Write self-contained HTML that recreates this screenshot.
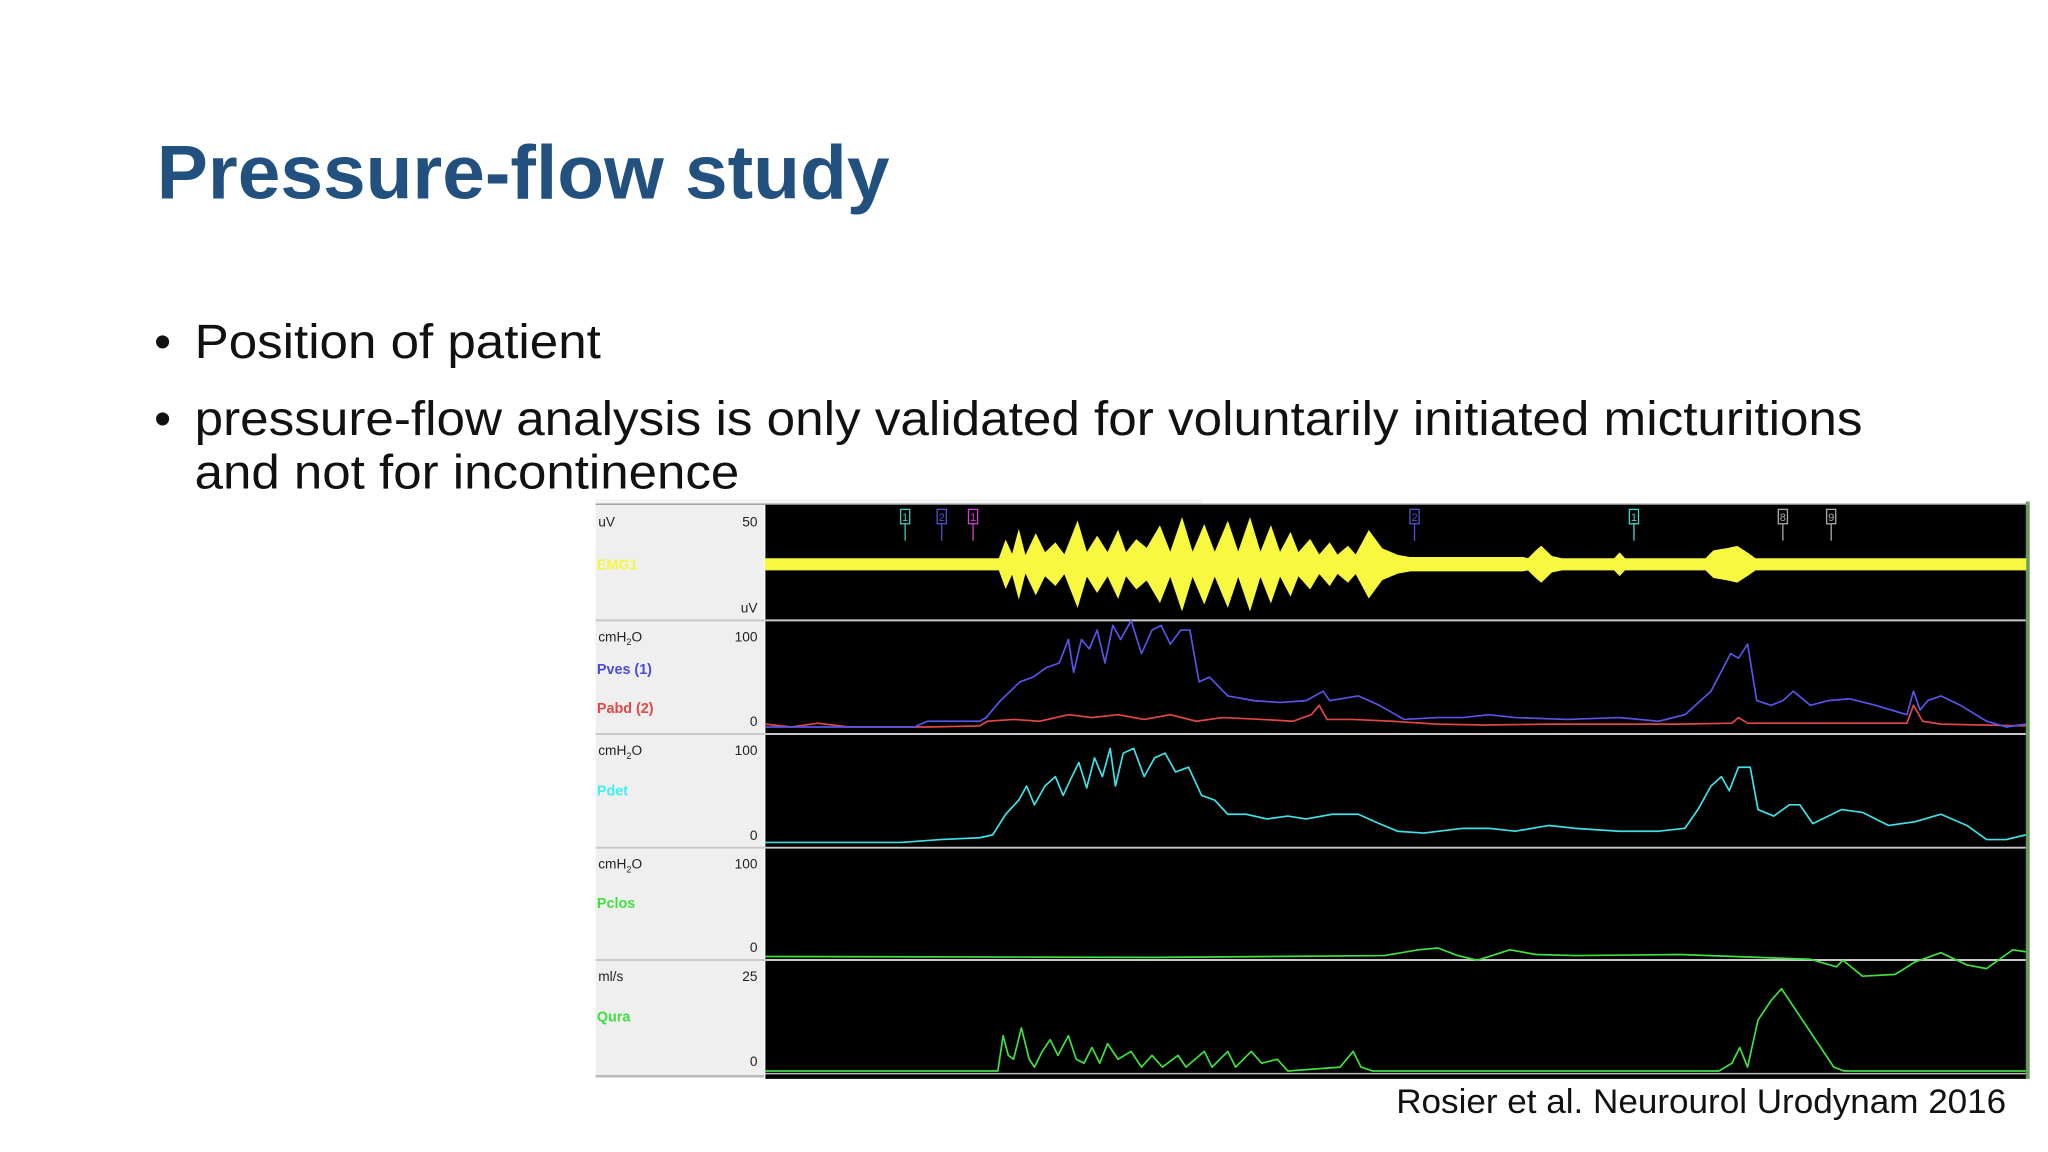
<!DOCTYPE html>
<html><head><meta charset="utf-8"><title>Pressure-flow study</title>
<style>
html,body{margin:0;padding:0;background:#fff;}
svg{display:block;}
text{font-family:"Liberation Sans",Arial,sans-serif;}
</style></head>
<body>
<svg id="slide" width="2048" height="1152" viewBox="0 0 1568 882" xmlns="http://www.w3.org/2000/svg">
<rect x="0" y="0" width="1568" height="882" fill="#fff"/>
<text x="120" y="152" font-size="58" font-weight="bold" fill="#22507f" textLength="561" lengthAdjust="spacingAndGlyphs">Pressure-flow study</text>
<g font-size="37" fill="#111">
<text x="118" y="274"><tspan>•</tspan><tspan x="149" textLength="311" lengthAdjust="spacingAndGlyphs">Position of patient</tspan></text>
<text x="118" y="333"><tspan>•</tspan><tspan x="149" textLength="1277" lengthAdjust="spacingAndGlyphs">pressure-flow analysis is only validated for voluntarily initiated micturitions</tspan></text>
<text x="149" y="374" textLength="417" lengthAdjust="spacingAndGlyphs">and not for incontinence</text>
</g>
<text x="1536" y="852" font-size="26" text-anchor="end" fill="#111" textLength="467" lengthAdjust="spacingAndGlyphs">Rosier et al. Neurourol Urodynam 2016</text>
<g id="chart"></g>
</svg>
<script>
// Time axis (s) 0..965, plot spans x 586..1551
const emgTimes=[0,179,184,189,194,199,207,214,222,229,239,246,254,262,270,276,284,292,302,310,319,327,336,344,354,362,371,379,387,394,402,408,417,424,432,438,446,452,462,472,484,494,580,584,590,594,602,610,650,654,658,720,726,736,744,752,758,965];
const emgAmp=[5,5,21,8,30,7,27,10,19,8,38,10,25,10,30,10,22,14,34,10,41,10,35,10,38,10,41,10,34,10,28,10,22,8,19,8,16,8,30,14,8,6,6,5,12,16,7,5,5,10,5,5,12,14,16,10,5,5];
const pvesTimes=[0,114,124,164,169,180,195,205,215,225,232,236,242,248,254,260,266,272,280,288,296,303,310,318,325,332,340,354,374,394,414,427,432,454,470,489,514,534,554,574,614,654,684,704,724,739,745,752,759,770,779,787,800,814,830,850,874,879,884,890,900,915,935,950,965];
const pvesVals=[2,2,8,8,12,30,50,55,65,70,95,60,95,85,105,70,110,95,115,80,105,110,90,105,105,50,55,35,30,28,30,40,30,35,25,10,12,12,15,12,10,12,8,15,40,80,75,90,30,25,30,40,25,30,32,25,15,40,20,30,35,25,8,2,5];
const pabdTimes=[0,20,40,64,114,124,164,170,190,210,232,250,270,290,310,330,350,380,404,418,424,430,450,480,514,550,600,650,700,740,745,752,800,860,874,879,886,900,965];
const pabdVals=[5,2,6,2,2,2,3,8,10,8,15,12,15,10,15,8,12,10,8,15,25,10,10,8,5,4,5,5,5,6,12,6,6,6,6,25,8,5,3];
const pdetTimes=[0,104,134,164,174,184,194,200,206,214,222,228,234,240,246,252,258,264,268,274,282,290,298,306,314,324,334,344,354,368,384,400,414,434,454,470,484,504,534,554,574,600,620,654,684,704,714,724,732,738,745,754,760,772,784,792,802,824,840,860,880,900,920,935,950,965];
const pdetVals=[0,0,3,5,8,30,45,60,40,60,70,50,68,85,58,90,70,100,60,95,100,70,90,95,75,80,50,45,30,30,25,28,25,30,30,20,12,10,15,15,12,18,15,12,12,15,35,60,70,55,80,80,35,28,40,40,20,35,32,18,22,30,18,3,3,8];
const pclosTimes=[0,300,474,500,515,530,545,570,590,620,700,760,800,820,825,840,865,880,900,920,935,955,965];
const pclosVals=[1,0,2,8,10,2,-3,8,3,2,3,0,-2,-10,-3,-20,-18,-5,5,-8,-12,8,6];
const quraTimes=[0,178,182,186,190,196,202,206,212,218,224,232,238,244,250,256,262,270,280,288,296,304,316,322,336,342,354,360,372,380,392,400,440,450,456,465,730,740,746,752,760,770,778,786,796,808,818,826,965];
const quraVals=[0,0,9,4,3,11,3,1,5,8,4,9,3,2,6,2,7,3,5,1,4,1,4,1,5,1,5,1,5,2,3,0,1,5,1,0,0,2,6,1,13,18,21,17,12,6,1,0,0];
const markerTimes=[107,135,159,497,665,779,816];
const markerLabels=['1','2','1','2','1','8','9'];
const markerColors=['#3fc9c0','#5050d0','#d040d0','#5050d0','#3fd9d0','#aaa','#aaa'];

const NS='http://www.w3.org/2000/svg';
const chart=document.getElementById('chart');
function mk(tag,attrs,parent){const e=document.createElementNS(NS,tag);for(const k in attrs)e.setAttribute(k,attrs[k]);(parent||chart).appendChild(e);return e;}
const X0=586,X1=1551,T1=965;
const xs=t=>X0+t*(X1-X0)/T1;
const panels=[
 {top:387,bot:475,zero:432,full:50,scale:0.85},
 {top:475,bot:562,zero:558,full:100,scale:0.72},
 {top:562,bot:649,zero:645,full:100,scale:0.72},
 {top:649,bot:735,zero:733,full:100,scale:0.72},
 {top:735,bot:822,zero:820,full:25,scale:3.0}
];
const ys=(p,v)=>panels[p].zero-v*panels[p].scale;

const tabs=mk('g',{});


mk('rect',{x:456,y:382,width:465,height:4,fill:'#f4f4f4'},tabs);
const lab=mk('rect',{x:456,y:386,width:129,height:438,fill:'#efefef'});


const bg=mk('rect',{x:X0,y:386,width:X1-X0+1,height:440,fill:'#000'});


mk('rect',{x:X1,y:384,width:3,height:442,fill:'#6a9a5a'});
mk('line',{x1:456,y1:386,x2:1554,y2:386,stroke:'#999','stroke-width':1});
for(let i=1;i<panels.length;i++){const s=mk('line',{x1:456,y1:panels[i].top,x2:X1,y2:panels[i].top,stroke:'#c8c8c8','stroke-width':1.5});

}
mk('line',{x1:X0,y1:822,x2:X1,y2:822,stroke:'#bbb','stroke-width':1.2});
mk('line',{x1:456,y1:824,x2:585,y2:824,stroke:'#bbb','stroke-width':2});

const labelDefs=[
 [0,'uV','50','uV',[['EMG1','#f5f542',436]]],
 [1,'cmH2O','100','0',[['Pves (1)','#4a4ae0',516],['Pabd (2)','#e04848',546]]],
 [2,'cmH2O','100','0',[['Pdet','#40f0f0',609]]],
 [3,'cmH2O','100','0',[['Pclos','#40e040',695]]],
 [4,'ml/s','25','0',[['Qura','#40e040',782]]]
];
labelDefs.forEach(d=>{const p=panels[d[0]];
 const u=mk('text',{x:458,y:p.top+16,'font-size':10.5,fill:'#222'});
 
 
 if(d[1]==='cmH2O'){
   u.textContent='cmH';
   const s2=mk('tspan',{'font-size':7,dy:3},u); s2.textContent='2';
   const so=mk('tspan',{dy:-3},u); so.textContent='O';
 } else u.textContent=d[1];
 const mx=mk('text',{x:580,y:p.top+16,'font-size':10.5,fill:'#222','text-anchor':'end'});
 
 
 mx.textContent=d[2];
 const mn=mk('text',{x:580,y:p.bot-6,'font-size':10.5,fill:'#222','text-anchor':'end'});
 
 
 mn.textContent=d[3];
 d[4].forEach(n=>{const t=mk('text',{x:457,y:n[2],'font-size':11,'font-weight':'bold',fill:n[1]});
 
 
 t.textContent=n[0];});
});

let emgTopPath='',emgBotPath=[];
emgTimes.forEach((t,i)=>{emgTopPath+=(i?'L':'M')+xs(t).toFixed(1)+' '+(ys(0,emgAmp[i])).toFixed(1);emgBotPath.push('L'+xs(t).toFixed(1)+' '+(ys(0,-emgAmp[i])).toFixed(1));});
const emg=mk('path',{d:emgTopPath+emgBotPath.reverse().join('')+'Z',fill:'#f8f840',stroke:'#f8f840','stroke-width':0.8});



function line(p,times,vals,color,name){let d='';times.forEach((t,i)=>{d+=(i?'L':'M')+xs(t).toFixed(1)+' '+ys(p,vals[i]).toFixed(1);});
 const e=mk('path',{d:d,fill:'none',stroke:color,'stroke-width':1.3,'stroke-linejoin':'round'});
 
 }
line(1,pabdTimes,pabdVals,'#e04848','pabd-trace');
line(1,pvesTimes,pvesVals,'#5555e8','pves-trace');
line(2,pdetTimes,pdetVals,'#40e0e8','pdet-trace');
line(3,pclosTimes,pclosVals,'#40e040','pclos-trace');
line(4,quraTimes,quraVals,'#40e040','qura-trace');

markerTimes.forEach((t,i)=>{const x=xs(t);
 const g=mk('g',{});
 
 
 mk('rect',{x:x-3.5,y:390,width:7,height:11,fill:'none',stroke:markerColors[i],'stroke-width':1},g);
 mk('text',{x:x,y:399,'font-size':8.5,fill:markerColors[i],'text-anchor':'middle'},g).textContent=markerLabels[i];
 mk('line',{x1:x,y1:401,x2:x,y2:414,stroke:markerColors[i],'stroke-width':1},g);
});
</script>
</body></html>
